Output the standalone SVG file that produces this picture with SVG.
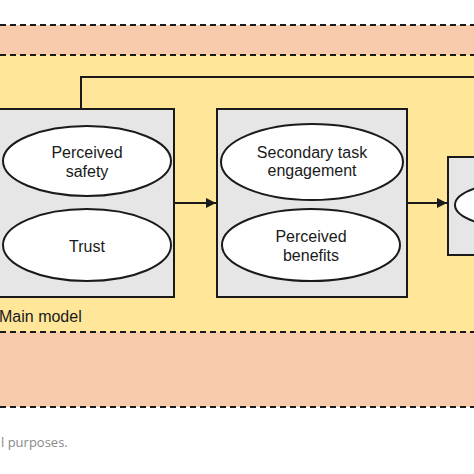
<svg xmlns="http://www.w3.org/2000/svg" width="474" height="474" viewBox="0 0 474 474">
  <style>
    .band-s { fill: #F8CBAD; }
    .band-y { fill: #FFE699; }
    .dash { stroke: #1a1a1a; stroke-width: 2; stroke-dasharray: 6 4; fill: none; }
    .box { fill: #E6E6E6; stroke: #1a1a1a; stroke-width: 2; }
    .ell { fill: #ffffff; stroke: #1a1a1a; stroke-width: 2; }
    .lbl { font-family: "Liberation Sans", Arial, sans-serif; font-size: 16px; fill: #1a1a1a; text-anchor: middle; }
    .conn { stroke: #1a1a1a; stroke-width: 2; fill: none; }
  </style>
  <defs>
    <marker id="arr" viewBox="0 0 10 10" refX="10" refY="5" markerWidth="5.5" markerHeight="5" orient="auto" markerUnits="strokeWidth">
      <path d="M0,0 L10,5 L0,10 z" fill="#1a1a1a"/>
    </marker>
  </defs>
  <rect x="0" y="0" width="474" height="474" fill="#ffffff"/>
  <g id="bands">
    <rect class="band-s" x="0" y="25" width="474" height="30"/>
    <rect class="band-y" x="0" y="55" width="474" height="277"/>
    <rect class="band-s" x="0" y="332" width="474" height="75"/>
    <line class="dash" x1="0" y1="25" x2="474" y2="25"/>
    <line class="dash" x1="0" y1="55" x2="474" y2="55"/>
    <line class="dash" x1="0" y1="332" x2="474" y2="332"/>
    <line class="dash" x1="0" y1="407" x2="474" y2="407"/>
    <text x="-1" y="322" font-family="'Liberation Sans', Arial, sans-serif" font-size="16" fill="#1a1a1a">Main model</text>
  </g>
  <g id="connectors">
    <polyline class="conn" points="81,109 81,77 476,77"/>
    <line class="conn" x1="174" y1="203" x2="216" y2="203" marker-end="url(#arr)"/>
    <line class="conn" x1="407" y1="203" x2="447" y2="203" marker-end="url(#arr)"/>
  </g>
  <g id="box-left">
    <rect class="box" x="-3" y="109" width="177" height="188"/>
    <g id="perceived-safety">
      <ellipse class="ell" cx="87" cy="161" rx="84" ry="35"/>
      <text class="lbl" x="87" y="158">Perceived</text>
      <text class="lbl" x="87" y="177">safety</text>
    </g>
    <g id="trust">
      <ellipse class="ell" cx="87" cy="245" rx="84" ry="36"/>
      <text class="lbl" x="87" y="252">Trust</text>
    </g>
  </g>
  <g id="box-middle">
    <rect class="box" x="217" y="109" width="190" height="188"/>
    <g id="secondary-task">
      <ellipse class="ell" cx="312" cy="162" rx="91" ry="38"/>
      <text class="lbl" x="312" y="158">Secondary task</text>
      <text class="lbl" x="312" y="176">engagement</text>
    </g>
    <g id="perceived-benefits">
      <ellipse class="ell" cx="311" cy="245" rx="89" ry="36"/>
      <text class="lbl" x="311" y="242">Perceived</text>
      <text class="lbl" x="311" y="261">benefits</text>
    </g>
  </g>
  <g id="box-right">
    <rect class="box" x="448" y="157" width="40" height="98"/>
    <ellipse class="ell" cx="520" cy="205" rx="65" ry="23"/>
  </g>
  <text x="1" y="447" font-family="'Open Sans', Lato, sans-serif" font-size="13" fill="#8a8a8a">l purposes.</text>
</svg>
